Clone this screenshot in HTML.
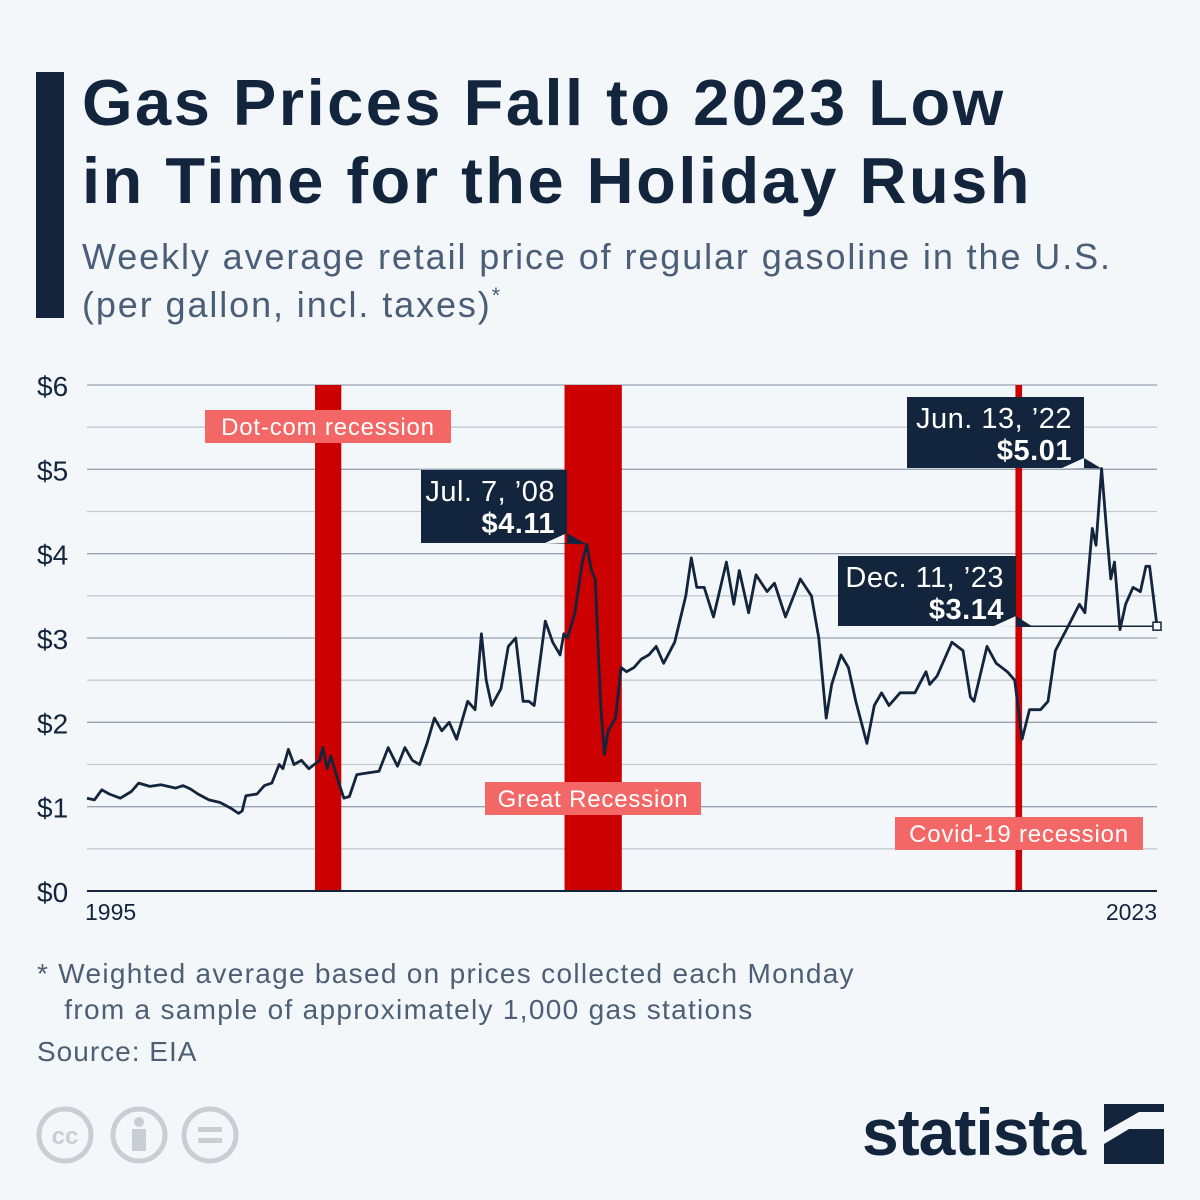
<!DOCTYPE html>
<html><head><meta charset="utf-8">
<style>
body{margin:0;background:#f4f7fa;font-family:"Liberation Sans",sans-serif;}
#wrap{position:relative;width:1200px;height:1200px;overflow:hidden;background:#f4f7fa;}
.abs{position:absolute;}
</style></head>
<body>
<div id="wrap">
<div class="abs" style="left:36px;top:72px;width:28px;height:246px;background:#13253d"></div>
<div class="abs" style="left:82px;top:64px;font-size:65px;font-weight:bold;color:#13253d;line-height:78px;letter-spacing:2.5px;white-space:nowrap;">Gas Prices Fall to 2023 Low<br>in Time for the Holiday Rush</div>
<div class="abs" style="left:82px;top:233px;font-size:36px;color:#4b5e78;line-height:48px;letter-spacing:1.9px;white-space:nowrap;">Weekly average retail price of regular gasoline in the U.S.<br>(per gallon, incl. taxes)<span style="font-size:22px;line-height:0;position:relative;top:-14px">*</span></div>
<svg class="abs" style="left:0;top:0" width="1200" height="1200" id="chart"></svg>
<div class="abs" style="left:37px;top:956px;font-size:28px;color:#4d5f75;line-height:36px;letter-spacing:1.3px;white-space:nowrap;">* Weighted average based on prices collected each Monday<br>&nbsp;&nbsp;&nbsp;from a sample of approximately 1,000 gas stations</div>
<div class="abs" style="left:37px;top:1036px;font-size:28px;color:#4d5f75;letter-spacing:1px;">Source: EIA</div>
<svg class="abs" style="left:30px;top:1100px" width="220" height="70">
<circle cx="35" cy="35" r="26" fill="none" stroke="#c9ced5" stroke-width="5"/><text x="35" y="44" text-anchor="middle" font-size="24" font-weight="bold" fill="#c9ced5" font-family="Liberation Sans">cc</text>
<circle cx="109" cy="35" r="26" fill="none" stroke="#c9ced5" stroke-width="5"/><circle cx="109" cy="22" r="5" fill="#c9ced5"/><rect x="102" y="29" width="14" height="22" fill="#c9ced5"/>
<circle cx="180" cy="35" r="26" fill="none" stroke="#c9ced5" stroke-width="5"/><rect x="168" y="27" width="24" height="5" fill="#c9ced5"/><rect x="168" y="38" width="24" height="5" fill="#c9ced5"/>
</svg>
<div class="abs" style="left:862px;top:1094px;font-size:66px;font-weight:bold;color:#13253d;letter-spacing:-1px;">statista</div>
<svg class="abs" style="left:1104px;top:1104px" width="60" height="60"><rect width="60" height="60" fill="#13253d"/><path d="M0 40 L25 25 L60 25 L60 8 L35 8 L0 28Z" fill="#f4f7fa"/><path d="M0 60 L0 52 L35 35 L60 35 L60 60Z" fill="#13253d"/></svg>
</div>
<script>
const years=[1995.0,1995.2,1995.4,1995.6,1995.9,1996.2,1996.4,1996.7,1997.0,1997.4,1997.6,1997.8,1998.0,1998.3,1998.6,1998.9,1999.1,1999.2,1999.3,1999.6,1999.8,2000.0,2000.2,2000.3,2000.45,2000.6,2000.8,2001.0,2001.3,2001.38,2001.5,2001.6,2001.8,2001.95,2002.1,2002.3,2002.6,2002.9,2003.15,2003.4,2003.6,2003.8,2004.0,2004.2,2004.4,2004.6,2004.8,2005.0,2005.3,2005.5,2005.67,2005.8,2005.95,2006.2,2006.4,2006.6,2006.8,2006.95,2007.1,2007.4,2007.6,2007.8,2007.9,2008.0,2008.2,2008.4,2008.52,2008.65,2008.75,2008.9,2009.0,2009.1,2009.3,2009.45,2009.6,2009.8,2010.0,2010.2,2010.4,2010.6,2010.9,2011.2,2011.35,2011.5,2011.7,2011.95,2012.3,2012.5,2012.65,2012.9,2013.1,2013.4,2013.6,2013.9,2014.3,2014.6,2014.8,2015.0,2015.15,2015.4,2015.6,2015.8,2016.1,2016.3,2016.5,2016.7,2017.0,2017.4,2017.7,2017.8,2018.0,2018.4,2018.7,2018.9,2019.0,2019.35,2019.6,2019.9,2020.1,2020.3,2020.5,2020.8,2021.0,2021.2,2021.5,2021.85,2022.0,2022.2,2022.3,2022.45,2022.6,2022.7,2022.8,2022.95,2023.1,2023.3,2023.5,2023.65,2023.75,2023.95];
const prices=[1.10,1.08,1.20,1.15,1.10,1.18,1.28,1.24,1.26,1.22,1.25,1.21,1.15,1.08,1.05,0.98,0.92,0.95,1.13,1.15,1.25,1.28,1.50,1.45,1.68,1.50,1.55,1.45,1.55,1.70,1.45,1.60,1.30,1.10,1.12,1.38,1.40,1.42,1.70,1.48,1.70,1.55,1.50,1.75,2.05,1.90,2.00,1.80,2.25,2.15,3.05,2.50,2.20,2.40,2.90,3.00,2.25,2.25,2.20,3.20,2.95,2.80,3.05,3.00,3.30,3.90,4.11,3.80,3.70,2.20,1.62,1.90,2.05,2.65,2.60,2.65,2.75,2.80,2.90,2.70,2.95,3.50,3.95,3.60,3.60,3.25,3.90,3.40,3.80,3.30,3.75,3.55,3.65,3.25,3.70,3.50,3.00,2.05,2.45,2.80,2.65,2.25,1.75,2.20,2.35,2.20,2.35,2.35,2.60,2.45,2.55,2.95,2.85,2.30,2.25,2.90,2.70,2.60,2.50,1.80,2.15,2.15,2.25,2.85,3.10,3.40,3.30,4.30,4.10,5.01,4.20,3.70,3.90,3.10,3.40,3.60,3.55,3.85,3.85,3.14];
const yTicks=[0,1,2,3,4,5,6];
const recessionStarts=[2001.17,2007.92,2020.12];
const recessionEnds=[2001.88,2009.47,2020.3];
const recessionLabels=["Dot-com recession","Great Recession","Covid-19 recession"];
const ns="http://www.w3.org/2000/svg";
const svg=document.getElementById('chart');
const X=t=>87+(t-1995)*(1070/28.95);
const Y=v=>891-v*(506/6);
function mk(tag,attrs,parent){const e=document.createElementNS(ns,tag);for(const k in attrs)e.setAttribute(k,attrs[k]);(parent||svg).appendChild(e);return e;}
for(let v=0.5;v<=6;v+=0.5){const g=mk('line',{x1:87,x2:1157,y1:Y(v),y2:Y(v),stroke:Number.isInteger(v)?'#97a3b3':'#c3cad3','stroke-width':1.3});

}
yTicks.forEach(v=>{const t=mk('text',{x:37,y:Y(v)+11,'font-size':28,fill:'#13253d','font-family':'Liberation Sans'});t.textContent='$'+v;

});
recessionStarts.forEach((s,i)=>{const r=mk('rect',{x:X(s),y:385,width:X(recessionEnds[i])-X(s),height:506,fill:'#cc0000'});

});
const ax=mk('line',{x1:87,x2:1157,y1:891,y2:891,stroke:'#13253d','stroke-width':2});


const d=years.map((t,i)=>(i?'L':'M')+X(t).toFixed(1)+' '+Y(prices[i]).toFixed(1)).join(' ');
const p=mk('path',{d:d,fill:'none',stroke:'#13253d','stroke-width':2.8,'stroke-linejoin':'round'});


const last=prices.length-1;
const hl=mk('line',{x1:1016,x2:X(years[last]),y1:Y(prices[last]),y2:Y(prices[last]),stroke:'#13253d','stroke-width':1.5});


const m=mk('rect',{x:X(years[last])-4,y:Y(prices[last])-4,width:8,height:8,fill:'#fff',stroke:'#13253d','stroke-width':1.5});


const lbl=[[205,410,246],[485,782,216],[895,817,248]];
lbl.forEach((b,i)=>{const r=mk('rect',{x:b[0],y:b[1],width:b[2],height:33,fill:'#f46767'});


const t=mk('text',{x:b[0]+b[2]/2,y:b[1]+25,'text-anchor':'middle','font-size':24,fill:'#fff','font-family':'Liberation Sans','letter-spacing':'0.8'});t.textContent=recessionLabels[i];

});
function callout(x,y,w,h,l1,l2,tipx,tipy){const g=mk('g',{});


mk('path',{d:`M${x} ${y}h${w}v${h}h-${w}Z M${x+w-22} ${y+h} L${tipx} ${tipy} L${x+w} ${y+h-10}Z`,fill:'#13253d'},g);
const a=mk('text',{x:x+w-12,y:y+31,'text-anchor':'end','font-size':29,fill:'#fff','font-family':'Liberation Sans','letter-spacing':'0.5'},g);a.textContent=l1;
const b=mk('text',{x:x+w-12,y:y+63,'text-anchor':'end','font-size':29,'font-weight':'bold',fill:'#fff','font-family':'Liberation Sans','letter-spacing':'0.5'},g);b.textContent=l2;}
callout(421,470,146,73,'Jul. 7, \u201908','$4.11',X(2008.52),Y(4.11));
callout(907,397,177,71,'Jun. 13, \u201922','$5.01',X(2022.45),Y(5.01));
callout(838,556,178,70,'Dec. 11, \u201923','$3.14',1032,Y(3.14));
const x1=mk('text',{x:85,y:920,'font-size':23,fill:'#13253d','font-family':'Liberation Sans'});x1.textContent='1995';


const x2=mk('text',{x:1157,y:920,'text-anchor':'end','font-size':23,fill:'#13253d','font-family':'Liberation Sans'});x2.textContent='2023';


</script>
</body></html>
